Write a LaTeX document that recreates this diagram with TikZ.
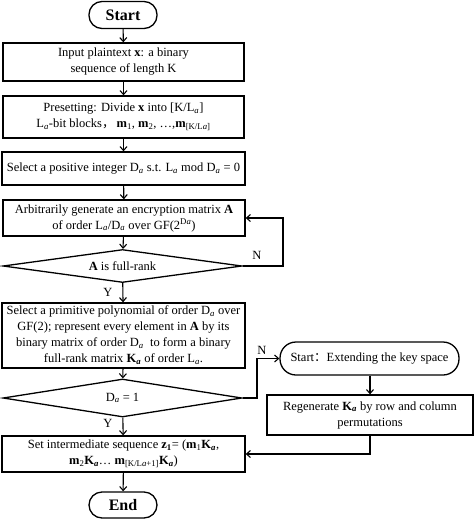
\documentclass[tikz,border=0pt]{standalone}
\usepackage{fontspec}
\setmainfont{Liberation Serif}
\newfontfamily\cjk{Noto Sans CJK SC}
\usetikzlibrary{shapes.geometric,arrows.meta}
\newcommand\alsub{\textsubscript{\textit{a}}}
\begin{document}
\begin{tikzpicture}[x=1pt,y=-1pt,
  every node/.style={font=\fontsize{12.5}{16}\selectfont, align=center, inner sep=0pt},
  box/.style={draw, line width=1.3pt, rectangle},
  term/.style={draw, line width=1.3pt, rectangle, rounded corners=13pt, minimum width=68pt, minimum height=27pt, font=\fontsize{16}{18}\selectfont\bfseries},
  dec/.style={draw, line width=1.3pt, diamond, aspect=7.5, minimum width=239pt},
  arr/.style={line width=1.1pt, -{Straight Barb[length=4pt,width=7pt]}},
  lbl/.style={font=\fontsize{12.5}{14}\selectfont}]
\useasboundingbox (0,0) rectangle (474,520);
\node[term] (start) at (123,15) {Start};
\node[box, minimum width=241pt, minimum height=38pt] (b1) at (123.5,62) {Input plaintext \textbf{x}: a binary\\sequence of length K};
\node[box, minimum width=241pt, minimum height=42pt] (b2) at (123.5,117) {Presetting: Divide \textbf{x} into [K/L\alsub]\\L\alsub-bit blocks{\cjk ，}\,\textbf{m}\textsubscript{1}, \textbf{m}\textsubscript{2}, \dots,\textbf{m}\textsubscript{[K/L\textit{a}]}};
\node[box, minimum width=243pt, minimum height=33pt] (b3) at (123.5,168.5) {Select a positive integer D\alsub\ s.t. L\alsub\ mod D\alsub\ = 0};
\node[box, minimum width=242pt, minimum height=36pt] (b4) at (124,218) {Arbitrarily generate an encryption matrix \textbf{A}\\of order L\alsub/D\alsub\ over GF(2\textsuperscript{D\textit{a}})};
\node[dec, minimum height=33pt] (d1) at (122.5,266) {\textbf{A} is full-rank};
\node[box, minimum width=243pt, minimum height=65pt] (b5) at (123.5,335.5) {Select a primitive polynomial of order D\alsub\ over\\GF(2); represent every element in \textbf{A} by its\\binary matrix of order D\alsub\ \ to form a binary\\full-rank matrix \textbf{K\textsubscript{\textit{a}}} of order L\alsub.};
\node[dec, minimum height=38pt] (d2) at (122.5,398) {D\alsub\ = 1};
\node[box, minimum width=243pt, minimum height=36pt] (b6) at (123.5,454) {Set intermediate sequence \textbf{z\textsubscript{1}}= (\textbf{m}\textsubscript{1}\textbf{K\textsubscript{\textit{a}}},\\\textbf{m}\textsubscript{2}\textbf{K\textsubscript{\textit{a}}}\dots\ \textbf{m}\textsubscript{[K/L\textit{a}+1]}\textbf{K\textsubscript{\textit{a}}})};
\node[term, minimum height=26pt] (end) at (123,505) {End};
\node[box, rounded corners=16pt, minimum width=179pt, minimum height=33pt] (ext) at (369.5,358.5) {Start{\cjk ：}Extending the key space};
\node[box, minimum width=206pt, minimum height=40pt] (reg) at (370,415) {Regenerate \textbf{K\textsubscript{\textit{a}}} by row and column\\permutations};
\coordinate (c1) at (283,266);
\coordinate (c2) at (257,398);
\draw[arr] (start) -- (b1);
\draw[arr] (b1) -- (b2);
\draw[arr] (b2) -- (b3);
\draw[arr] (b3) -- (b4);
\draw[arr] (b4) -- (d1);
\draw[arr] (d1) -- (b5);
\draw[arr] (b5) -- (d2);
\draw[arr] (d2) -- (b6);
\draw[arr] (b6) -- (end);
\draw[arr] (d1.east) -- (c1) |- (b4.east);
\draw[arr] (d2.east) -- (c2) |- (ext.west);
\draw[arr] (ext.south -| reg.north) -- (reg.north);
\draw[arr] (reg.south) |- (b6.east);
\node[lbl] (n1) at (257,255) {N};
\node[lbl] (n2) at (262,350) {N};
\node[lbl] (y1) at (108,292) {Y};
\node[lbl] (y2) at (108,423) {Y};
\end{tikzpicture}
\end{document}
